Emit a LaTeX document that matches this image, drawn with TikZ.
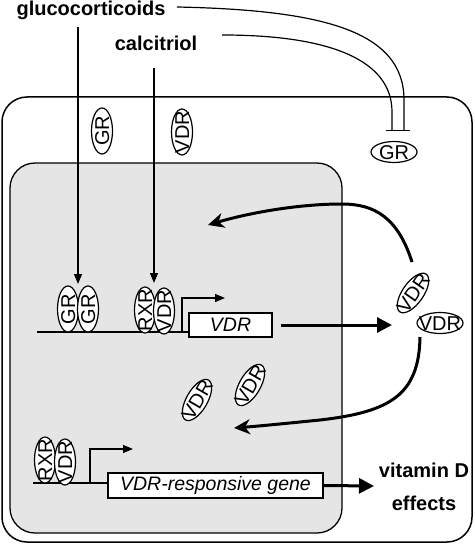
\documentclass[tikz,border=0pt]{standalone}
\usepackage{fontspec}
\setmainfont{Liberation Sans}
\usetikzlibrary{arrows.meta,shapes.geometric}
\newcommand{\rcp}[1]{\makebox[0pt]{\raisebox{-0.36em}[0pt][0pt]{#1}}}

\begin{document}
\begin{tikzpicture}[x=1pt,y=-1pt,
	recep/.style={draw, ellipse, fill=white, line width=1.2pt, inner sep=0pt, minimum width=46pt, minimum height=21pt, font=\fontsize{20}{20}\selectfont},
	gene/.style={draw, fill=white, line width=1.2pt, inner sep=0pt, font=\fontsize{19.5}{20}\selectfont\itshape},
	ligand/.style={font=\fontsize{20}{33}\selectfont\bfseries, inner sep=0pt},
	signal/.style={line width=1.2pt, -{Triangle[length=10pt,width=8pt]}},
	transport/.style={line width=3pt, -{Stealth[length=16pt,width=15pt,inset=5pt]}},
	output/.style={line width=3pt, -{Triangle[length=15pt,width=15pt]}},
	block/.style={line width=1.2pt, -{Bar[width=12pt,line width=1.4pt]}}]
	\useasboundingbox (0,0) rectangle (474,545);
	\draw [line width=1.5pt, rounded corners=25pt] (2,97) rectangle (472,542);
	\draw [line width=1.3pt, rounded corners=25pt, fill=black!10] (10,163) rectangle (342,533);
	\node [ligand] (gluco) at (91,10) {glucocorticoids};
	\node [ligand] (calci) at (156,43) {calcitriol};
	\node [ligand, align=center] (vitD) at (424,487) {vitamin D\\effects};
	\coordinate (dnaA) at (37,332);
	\coordinate (dnaB) at (33,483);
	\coordinate (promA) at (182,332);
	\coordinate (promB) at (90,483);
	\node [gene, minimum width=83pt, minimum height=24pt] (vdrgene) at (230.5,325) {VDR};
	\node [gene, minimum width=215pt, minimum height=25pt] (target) at (215.5,485.5) {VDR-responsive gene};
	\draw [line width=1.2pt] (dnaA) -- (dnaA -| vdrgene.west);
	\draw [line width=1.2pt] (dnaB) -- (dnaB -| target.west);
	\draw [signal] (promA) |- (225,298);
	\draw [signal] (promB) |- (133,449);
	\node [recep, rotate=90] (grC) at (102,131) {\rcp{GR}};
	\node [recep, rotate=90] (vdrC) at (182,132) {\rcp{VDR}};
	\node [recep] (grR) at (394,152) {\rcp{GR}};
	\node [recep, rotate=90] (grA) at (68,309) {\rcp{GR}};
	\node [recep, rotate=90] (grB) at (88,309) {\rcp{GR}};
	\node [recep, rotate=90] (rxrA) at (145,310) {\rcp{RXR}};
	\node [recep, rotate=90] (vdrA) at (164,311) {\rcp{VDR}};
	\node [recep, rotate=90] (rxrB) at (45,460) {\rcp{RXR}};
	\node [recep, rotate=90] (vdrB) at (65,462) {\rcp{VDR}};
	\node [recep, rotate=60] (vdrN1) at (197,400) {\rcp{VDR}};
	\node [recep, rotate=60] (vdrN2) at (250,385) {\rcp{VDR}};
	\node [recep, rotate=55] (vdrR1) at (413,293) {\rcp{VDR}};
	\node [recep] (vdrR2) at (440,323) {\rcp{VDR}};
	\coordinate (grtop) at (78,284);
	\coordinate (vdrtop) at (154,283);
	\coordinate (bindA) at (404,131);
	\coordinate (bindB) at (392,131);
	\coordinate (outA) at (208,225);
	\coordinate (outB) at (234,428);
	\coordinate (vdrpool) at (392,325);
	\coordinate (effect) at (374,486);
	\draw [signal] (78,27) -- (grtop);
	\draw [signal] (154,68) -- (vdrtop);
	\draw [block] (177,7) .. controls (320,10) and (404,30) .. (404,100) -- (bindA);
	\draw [block] (222,35) .. controls (330,35) and (392,60) .. (392,112) -- (bindB);
	\draw [output] ([xshift=8pt]vdrgene.east) -- (vdrpool);
	\draw [transport] (412,262) .. controls (398,218) and (375,204) .. (342,204) .. controls (295,204) and (245,214) .. (outA);
	\draw [transport] (420,337) .. controls (419,395) and (390,412) .. (320,420) .. controls (290,423) and (260,426) .. (outB);
	\draw [output] (target.east) -- (effect);
\end{tikzpicture}
\end{document}
